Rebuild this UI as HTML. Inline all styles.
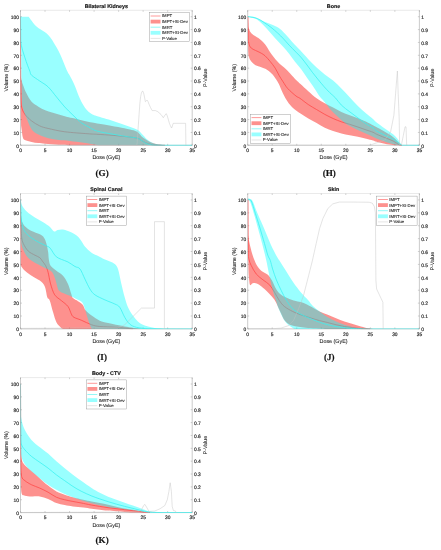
<!DOCTYPE html>
<html lang="en">
<head>
<meta charset="utf-8">
<title>DVH comparison IMPT vs IMRT</title>
<style>
html,body{margin:0;padding:0;background:#fff;}
body{width:441px;height:550px;overflow:hidden;}
svg{display:block;}
text{font-family:"Liberation Sans",Arial,Helvetica,sans-serif;fill:#262626;text-rendering:geometricPrecision;stroke:#262626;stroke-width:0.16px;}
.tk{font-size:4.9px;}
.al{font-size:5.35px;stroke-width:0.09px;}
.tt{font-size:5.35px;font-weight:bold;fill:#111;}
.lg{font-size:4.3px;stroke-width:0.1px;}
.cp{font-family:"Liberation Serif","Times New Roman",serif;font-size:9.1px;font-weight:bold;fill:#111;}
</style>
</head>
<body>
<svg width="441" height="550" viewBox="0 0 441 550">
<rect width="441" height="550" fill="#fff"/>
<g>
<path d="M20.50,10.30 H192.20" stroke="#d0d0d0" stroke-width="0.45" fill="none"/>
<path d="M20.50,10.30 V145.30 H192.20" stroke="#8a8a8a" stroke-width="0.45" fill="none"/>
<path d="M192.20,10.30 V145.30" stroke="#8a8a8a" stroke-width="0.45" fill="none"/>
<path d="M20.50,145.30 v-1.5 M20.50,10.30 v1.5 M45.03,145.30 v-1.5 M45.03,10.30 v1.5 M69.56,145.30 v-1.5 M69.56,10.30 v1.5 M94.09,145.30 v-1.5 M94.09,10.30 v1.5 M118.61,145.30 v-1.5 M118.61,10.30 v1.5 M143.14,145.30 v-1.5 M143.14,10.30 v1.5 M167.67,145.30 v-1.5 M167.67,10.30 v1.5 M192.20,145.30 v-1.5 M192.20,10.30 v1.5 M20.50,145.30 h1.5 M192.20,145.30 h-1.5 M20.50,132.44 h1.5 M192.20,132.44 h-1.5 M20.50,119.59 h1.5 M192.20,119.59 h-1.5 M20.50,106.73 h1.5 M192.20,106.73 h-1.5 M20.50,93.87 h1.5 M192.20,93.87 h-1.5 M20.50,81.01 h1.5 M192.20,81.01 h-1.5 M20.50,68.16 h1.5 M192.20,68.16 h-1.5 M20.50,55.30 h1.5 M192.20,55.30 h-1.5 M20.50,42.44 h1.5 M192.20,42.44 h-1.5 M20.50,29.59 h1.5 M192.20,29.59 h-1.5 M20.50,16.73 h1.5 M192.20,16.73 h-1.5" stroke="#8a8a8a" stroke-width="0.4" fill="none"/>
<clipPath id="cG"><rect x="20.50" y="10.30" width="171.70" height="135.40"/></clipPath>
<g clip-path="url(#cG)">
<path d="M20.50,16.72 L20.80,75.74 L20.80,75.74 C20.93,76.58 21.17,79.05 21.60,80.76 C22.03,82.47 22.63,83.97 23.40,85.98 C24.17,87.99 24.83,90.16 26.20,92.81 C27.57,95.45 29.57,99.53 31.60,101.84 C33.63,104.15 36.13,105.27 38.40,106.66 C40.67,108.05 42.93,109.18 45.20,110.17 C47.47,111.16 49.73,111.84 52.00,112.58 C54.27,113.31 56.53,113.95 58.80,114.59 C61.07,115.22 63.33,115.81 65.60,116.39 C67.87,116.98 69.40,117.38 72.40,118.10 C75.40,118.82 79.47,119.82 83.60,120.71 C87.73,121.60 92.67,122.60 97.20,123.42 C101.73,124.24 106.27,124.84 110.80,125.63 C115.33,126.41 121.20,127.50 124.40,128.14 C127.60,128.77 127.88,128.84 130.00,129.44 C132.12,130.04 134.95,130.39 137.10,131.75 C139.25,133.10 140.83,135.92 142.90,137.57 C144.97,139.23 147.32,140.62 149.50,141.69 C151.68,142.76 153.42,143.39 156.00,144.00 C158.58,144.60 163.50,145.08 165.00,145.30 L70.00,145.30 C68.13,145.22 62.93,145.05 58.80,144.80 C54.67,144.55 48.60,144.08 45.20,143.79 C41.80,143.51 40.67,143.39 38.40,143.09 C36.13,142.79 33.87,142.49 31.60,141.99 C29.33,141.49 26.27,140.87 24.80,140.08 C23.33,139.29 23.30,138.88 22.80,137.27 C22.30,135.66 22.07,132.25 21.80,130.44 C21.53,128.64 21.30,127.10 21.20,126.43 L21.20,126.43 C21.12,122.08 20.82,118.62 20.70,100.33 C20.58,82.05 20.53,30.66 20.50,16.72 Z" fill="#fb0a05" fill-opacity="0.45"/>
<path d="M20.50,16.72 C20.52,23.97 20.53,47.09 20.60,60.18 C20.67,73.28 20.85,89.46 20.90,95.31 L20.90,95.31 C21.02,97.24 20.93,103.70 21.60,106.86 C22.27,110.02 23.23,111.94 24.90,114.29 C26.57,116.63 29.12,118.97 31.60,120.91 C34.08,122.85 37.05,124.67 39.80,125.93 C42.55,127.18 43.95,127.47 48.10,128.44 C52.25,129.41 58.05,130.86 64.70,131.75 C71.35,132.64 82.68,133.34 88.00,133.76 C93.32,134.18 92.42,133.99 96.60,134.26 C100.78,134.53 107.58,134.89 113.10,135.36 C118.62,135.83 125.57,136.57 129.70,137.07 C133.83,137.57 135.68,137.64 137.90,138.37 C140.12,139.11 141.15,140.55 143.00,141.49 C144.85,142.42 146.83,143.39 149.00,144.00 C151.17,144.60 153.33,144.88 156.00,145.10 C158.67,145.32 163.50,145.27 165.00,145.30" fill="none" stroke="#ff4545" stroke-width="0.75"/>
<path d="M20.50,16.72 L28.70,16.72 L28.70,16.72 C29.73,18.10 33.02,22.90 34.90,24.95 C36.78,27.01 38.13,27.73 40.00,29.07 C41.87,30.41 44.43,31.65 46.10,32.98 C47.77,34.32 48.75,35.51 50.00,37.10 C51.25,38.69 51.95,39.74 53.60,42.52 C55.25,45.30 57.62,48.96 59.90,53.76 C62.18,58.56 65.68,67.75 67.30,71.33 C68.92,74.91 68.38,72.93 69.60,75.24 C70.82,77.55 72.87,81.25 74.60,85.18 C76.33,89.11 78.27,95.08 80.00,98.83 C81.73,102.58 83.35,105.35 85.00,107.66 C86.65,109.97 87.97,111.29 89.90,112.68 C91.83,114.07 92.73,114.62 96.60,115.99 C100.47,117.36 107.58,119.12 113.10,120.91 C118.62,122.70 125.57,125.21 129.70,126.73 C133.83,128.25 135.70,128.66 137.90,130.04 C140.10,131.43 141.23,133.39 142.90,135.06 C144.57,136.73 146.22,138.78 147.90,140.08 C149.58,141.39 151.30,142.21 153.00,142.89 C154.70,143.58 155.03,143.79 158.10,144.20 C161.17,144.60 169.18,145.12 171.40,145.30 L102.00,145.30 C101.20,145.23 100.27,145.33 97.20,144.90 C94.13,144.46 88.13,143.36 83.60,142.69 C79.07,142.02 74.13,141.34 70.00,140.88 C65.87,140.43 61.80,140.30 58.80,139.98 C55.80,139.66 54.27,139.43 52.00,138.98 C49.73,138.52 47.47,138.01 45.20,137.27 C42.93,136.53 40.43,135.61 38.40,134.56 C36.37,133.51 34.37,132.23 33.00,130.95 C31.63,129.66 31.12,128.59 30.20,126.83 C29.28,125.08 28.40,122.57 27.50,120.41 C26.60,118.25 25.47,115.56 24.80,113.88 C24.13,112.21 23.95,111.79 23.50,110.37 C23.05,108.95 22.33,106.19 22.10,105.35 L22.10,105.35 C22.00,101.17 21.68,91.13 21.50,80.26 C21.32,69.39 21.17,50.70 21.00,40.11 C20.83,29.52 20.58,20.62 20.50,16.72 Z" fill="#00ffff" fill-opacity="0.4"/>
<path d="M20.50,16.72 L20.70,42.12 L20.70,42.12 C21.00,43.46 21.80,47.57 22.50,50.15 C23.20,52.72 24.07,55.07 24.90,57.58 C25.73,60.08 26.67,62.91 27.50,65.20 C28.33,67.50 29.22,69.65 29.90,71.33 C30.58,73.00 29.95,73.62 31.60,75.24 C33.25,76.86 37.05,79.12 39.80,81.06 C42.55,83.00 45.33,84.26 48.10,86.88 C50.87,89.51 53.63,93.49 56.40,96.82 C59.17,100.15 61.95,103.81 64.70,106.86 C67.45,109.90 70.15,112.46 72.90,115.09 C75.65,117.71 78.63,120.68 81.20,122.62 C83.77,124.56 85.73,125.34 88.30,126.73 C90.87,128.12 92.47,129.69 96.60,130.95 C100.73,132.20 107.58,133.24 113.10,134.26 C118.62,135.28 125.57,136.38 129.70,137.07 C133.83,137.76 135.15,137.32 137.90,138.37 C140.65,139.43 143.68,142.27 146.20,143.39 C148.72,144.51 150.70,144.78 153.00,145.10 C155.30,145.42 158.83,145.27 160.00,145.30 L192.20,145.30" fill="none" stroke="#38f2f0" stroke-width="0.75"/>
<path d="M20.50,145.10 L137.00,145.10 L137.60,135.46 L138.70,120.11 L139.80,104.15 L140.60,96.82 L141.40,93.01 L142.20,91.30 L142.80,91.10 L143.40,92.30 L144.00,94.61 L145.40,101.74 L146.30,100.94 L147.10,100.13 L148.00,101.54 L149.00,104.15 L150.50,107.56 L152.20,110.57 L155.40,110.57 L157.80,111.68 L161.00,114.49 L163.30,117.70 L164.80,115.39 L166.20,113.68 L167.00,115.19 L167.80,117.70 L169.40,123.32 L170.60,126.23 L171.60,128.04 L172.40,125.93 L173.20,123.32 L185.60,123.32 L185.90,145.30" fill="none" stroke="#c2c2c2" stroke-width="0.45" stroke-linejoin="round"/>
</g>
<text class="tk" x="20.50" y="152.00" text-anchor="middle">0</text>
<text class="tk" x="45.03" y="152.00" text-anchor="middle">5</text>
<text class="tk" x="69.56" y="152.00" text-anchor="middle">10</text>
<text class="tk" x="94.09" y="152.00" text-anchor="middle">15</text>
<text class="tk" x="118.61" y="152.00" text-anchor="middle">20</text>
<text class="tk" x="143.14" y="152.00" text-anchor="middle">25</text>
<text class="tk" x="167.67" y="152.00" text-anchor="middle">30</text>
<text class="tk" x="192.20" y="152.00" text-anchor="middle">35</text>
<text class="tk" x="19.00" y="147.55" text-anchor="end">0</text>
<text class="tk" x="193.95" y="147.55">0</text>
<text class="tk" x="19.00" y="134.69" text-anchor="end">10</text>
<text class="tk" x="193.95" y="134.69">0.1</text>
<text class="tk" x="19.00" y="121.84" text-anchor="end">20</text>
<text class="tk" x="193.95" y="121.84">0.2</text>
<text class="tk" x="19.00" y="108.98" text-anchor="end">30</text>
<text class="tk" x="193.95" y="108.98">0.3</text>
<text class="tk" x="19.00" y="96.12" text-anchor="end">40</text>
<text class="tk" x="193.95" y="96.12">0.4</text>
<text class="tk" x="19.00" y="83.26" text-anchor="end">50</text>
<text class="tk" x="193.95" y="83.26">0.5</text>
<text class="tk" x="19.00" y="70.41" text-anchor="end">60</text>
<text class="tk" x="193.95" y="70.41">0.6</text>
<text class="tk" x="19.00" y="57.55" text-anchor="end">70</text>
<text class="tk" x="193.95" y="57.55">0.7</text>
<text class="tk" x="19.00" y="44.69" text-anchor="end">80</text>
<text class="tk" x="193.95" y="44.69">0.8</text>
<text class="tk" x="19.00" y="31.84" text-anchor="end">90</text>
<text class="tk" x="193.95" y="31.84">0.9</text>
<text class="tk" x="19.00" y="18.98" text-anchor="end">100</text>
<text class="tk" x="193.95" y="18.98">1</text>
<text class="al" x="106.35" y="159.30" text-anchor="middle">Dose (GyE)</text>
<text class="al" transform="translate(8.40,77.80) rotate(-90)" text-anchor="middle">Volume (%)</text>
<text class="al" transform="translate(207.20,77.80) rotate(-90)" text-anchor="middle">P-Value</text>
<text class="tt" x="106.35" y="7.70" text-anchor="middle">Bilateral Kidneys</text>
<rect x="149.40" y="12.60" width="40.3" height="29.1" fill="#fff" stroke="#8a8a8a" stroke-width="0.4"/>
<path d="M150.60,16.00 h9.9" stroke="#ff4545" stroke-width="0.55"/>
<text class="lg" x="161.90" y="17.45">IMPT</text>
<rect x="150.60" y="19.70" width="9.9" height="3.8" fill="#fb0a05" fill-opacity="0.45"/>
<text class="lg" x="161.90" y="23.05">IMPT+St-Dev</text>
<path d="M150.60,27.20 h9.9" stroke="#38f2f0" stroke-width="0.55"/>
<text class="lg" x="161.90" y="28.65">IMRT</text>
<rect x="150.60" y="30.90" width="9.9" height="3.8" fill="#00ffff" fill-opacity="0.4"/>
<text class="lg" x="161.90" y="34.25">IMRT+St-Dev</text>
<path d="M150.60,38.40 h9.9" stroke="#c2c2c2" stroke-width="0.45"/>
<text class="lg" x="161.90" y="39.85">P-Value</text>
<text class="cp" x="102.15" y="175.90" text-anchor="middle">(G)</text>
</g>
<g>
<path d="M247.70,10.30 H419.40" stroke="#d0d0d0" stroke-width="0.45" fill="none"/>
<path d="M247.70,10.30 V145.30 H419.40" stroke="#8a8a8a" stroke-width="0.45" fill="none"/>
<path d="M419.40,10.30 V145.30" stroke="#8a8a8a" stroke-width="0.45" fill="none"/>
<path d="M247.70,145.30 v-1.5 M247.70,10.30 v1.5 M272.23,145.30 v-1.5 M272.23,10.30 v1.5 M296.76,145.30 v-1.5 M296.76,10.30 v1.5 M321.29,145.30 v-1.5 M321.29,10.30 v1.5 M345.81,145.30 v-1.5 M345.81,10.30 v1.5 M370.34,145.30 v-1.5 M370.34,10.30 v1.5 M394.87,145.30 v-1.5 M394.87,10.30 v1.5 M419.40,145.30 v-1.5 M419.40,10.30 v1.5 M247.70,145.30 h1.5 M419.40,145.30 h-1.5 M247.70,132.44 h1.5 M419.40,132.44 h-1.5 M247.70,119.59 h1.5 M419.40,119.59 h-1.5 M247.70,106.73 h1.5 M419.40,106.73 h-1.5 M247.70,93.87 h1.5 M419.40,93.87 h-1.5 M247.70,81.01 h1.5 M419.40,81.01 h-1.5 M247.70,68.16 h1.5 M419.40,68.16 h-1.5 M247.70,55.30 h1.5 M419.40,55.30 h-1.5 M247.70,42.44 h1.5 M419.40,42.44 h-1.5 M247.70,29.59 h1.5 M419.40,29.59 h-1.5 M247.70,16.73 h1.5 M419.40,16.73 h-1.5" stroke="#8a8a8a" stroke-width="0.4" fill="none"/>
<clipPath id="cH"><rect x="247.70" y="10.30" width="171.70" height="135.40"/></clipPath>
<g clip-path="url(#cH)">
<path d="M247.90,16.72 L248.30,27.06 L248.30,27.06 C248.38,27.26 248.30,27.25 248.80,28.27 C249.30,29.29 249.50,31.39 251.30,33.18 C253.10,34.97 257.32,37.15 259.60,39.01 C261.88,40.86 263.22,42.08 265.00,44.33 C266.78,46.57 268.30,49.68 270.30,52.46 C272.30,55.23 275.05,58.76 277.00,60.99 C278.95,63.21 280.37,64.32 282.00,65.81 C283.63,67.29 285.33,68.52 286.80,69.92 C288.27,71.33 289.20,72.51 290.80,74.24 C292.40,75.96 294.78,78.62 296.40,80.26 C298.02,81.90 298.52,82.23 300.50,84.07 C302.48,85.91 305.62,88.92 308.30,91.30 C310.98,93.68 313.85,96.32 316.60,98.33 C319.35,100.33 322.05,101.81 324.80,103.34 C327.55,104.88 330.33,106.14 333.10,107.56 C335.87,108.98 338.63,110.60 341.40,111.88 C344.17,113.15 346.95,114.13 349.70,115.19 C352.45,116.24 355.15,117.11 357.90,118.20 C360.65,119.29 363.68,120.54 366.20,121.71 C368.72,122.88 371.10,124.22 373.00,125.23 C374.90,126.23 375.70,126.70 377.60,127.73 C379.50,128.77 382.33,130.28 384.40,131.45 C386.47,132.62 388.32,133.62 390.00,134.76 C391.68,135.90 393.15,137.07 394.50,138.27 C395.85,139.48 396.82,140.82 398.10,141.99 C399.38,143.16 401.52,144.75 402.20,145.30 L396.00,145.30 C395.52,145.25 394.97,145.27 393.10,145.00 C391.23,144.73 387.55,144.25 384.80,143.69 C382.05,143.14 378.57,142.24 376.60,141.69 C374.63,141.13 374.73,140.88 373.00,140.38 C371.27,139.88 368.72,139.28 366.20,138.68 C363.68,138.07 360.65,137.35 357.90,136.77 C355.15,136.18 352.45,135.71 349.70,135.16 C346.95,134.61 344.17,134.16 341.40,133.46 C338.63,132.75 335.87,131.92 333.10,130.95 C330.33,129.98 327.55,128.97 324.80,127.63 C322.05,126.30 319.35,124.46 316.60,122.92 C313.85,121.38 310.98,119.97 308.30,118.40 C305.62,116.83 303.10,115.27 300.50,113.48 C297.90,111.69 294.83,109.60 292.70,107.66 C290.57,105.72 289.32,104.20 287.70,101.84 C286.08,99.48 284.52,96.55 283.00,93.51 C281.48,90.46 280.05,86.37 278.60,83.57 C277.15,80.78 275.60,78.54 274.30,76.75 C273.00,74.96 272.30,74.15 270.80,72.83 C269.30,71.51 267.73,70.02 265.30,68.82 C262.87,67.61 258.53,66.83 256.20,65.60 C253.87,64.38 252.53,63.01 251.30,61.49 C250.07,59.97 249.32,58.36 248.80,56.47 C248.28,54.58 248.30,51.20 248.20,50.15 L248.20,50.15 L247.90,16.72 Z" fill="#fb0a05" fill-opacity="0.45"/>
<path d="M247.90,16.72 L248.20,40.11 L248.20,40.11 C248.30,40.63 248.28,41.88 248.80,43.22 C249.32,44.56 249.43,46.58 251.30,48.14 C253.17,49.70 257.72,51.29 260.00,52.56 C262.28,53.83 263.30,54.28 265.00,55.77 C266.70,57.26 268.50,59.43 270.20,61.49 C271.90,63.55 273.70,65.76 275.20,68.11 C276.70,70.47 277.90,73.38 279.20,75.64 C280.50,77.90 281.58,79.52 283.00,81.66 C284.42,83.81 285.53,86.10 287.70,88.49 C289.87,90.88 293.95,94.38 296.00,96.02 C298.05,97.66 297.95,96.90 300.00,98.33 C302.05,99.75 305.53,102.68 308.30,104.55 C311.07,106.42 313.85,107.93 316.60,109.57 C319.35,111.21 322.05,112.90 324.80,114.39 C327.55,115.87 330.33,117.26 333.10,118.50 C335.87,119.74 338.63,120.84 341.40,121.81 C344.17,122.78 346.95,123.45 349.70,124.32 C352.45,125.19 355.15,126.10 357.90,127.03 C360.65,127.97 363.68,129.07 366.20,129.94 C368.72,130.81 371.27,131.53 373.00,132.25 C374.73,132.97 374.63,133.36 376.60,134.26 C378.57,135.16 382.05,136.55 384.80,137.67 C387.55,138.79 390.62,139.75 393.10,140.98 C395.58,142.22 398.22,144.38 399.70,145.10 C401.18,145.82 401.62,145.27 402.00,145.30" fill="none" stroke="#ff4545" stroke-width="0.75"/>
<path d="M247.90,16.52 C249.02,16.59 251.83,16.07 254.60,16.92 C257.37,17.78 261.18,20.17 264.50,21.64 C267.82,23.11 271.73,24.39 274.50,25.76 C277.27,27.13 278.07,27.10 281.10,29.87 C284.13,32.65 289.55,39.06 292.70,42.42 C295.85,45.78 297.40,47.25 300.00,50.05 C302.60,52.84 305.53,56.27 308.30,59.18 C311.07,62.09 313.85,64.97 316.60,67.51 C319.35,70.05 322.05,72.26 324.80,74.44 C327.55,76.61 330.33,78.20 333.10,80.56 C335.87,82.92 338.63,85.80 341.40,88.59 C344.17,91.38 346.95,94.43 349.70,97.32 C352.45,100.22 355.15,103.28 357.90,105.95 C360.65,108.63 363.68,111.22 366.20,113.38 C368.72,115.54 371.27,117.40 373.00,118.90 C374.73,120.41 374.63,120.83 376.60,122.42 C378.57,124.00 382.05,126.46 384.80,128.44 C387.55,130.41 391.02,132.59 393.10,134.26 C395.18,135.93 396.05,136.95 397.30,138.47 C398.55,140.00 399.65,142.26 400.60,143.39 C401.55,144.53 402.60,144.98 403.00,145.30 L399.70,145.30 C398.92,145.17 396.62,144.83 395.00,144.50 C393.38,144.16 391.77,143.79 390.00,143.29 C388.23,142.79 386.47,142.21 384.40,141.49 C382.33,140.77 379.87,139.93 377.60,138.98 C375.33,138.02 373.07,136.82 370.80,135.76 C368.53,134.71 366.27,133.66 364.00,132.65 C361.73,131.65 359.47,130.80 357.20,129.74 C354.93,128.69 352.67,127.63 350.40,126.33 C348.13,125.02 345.87,123.69 343.60,121.91 C341.33,120.14 339.07,117.85 336.80,115.69 C334.53,113.53 332.00,111.19 330.00,108.97 C328.00,106.74 326.18,104.03 324.80,102.34 C323.42,100.65 322.78,100.13 321.70,98.83 C320.62,97.52 319.80,96.69 318.30,94.51 C316.80,92.34 314.58,88.57 312.70,85.78 C310.82,82.99 308.92,80.51 307.00,77.75 C305.08,74.99 303.20,71.89 301.20,69.22 C299.20,66.54 297.02,64.28 295.00,61.69 C292.98,59.10 291.03,56.12 289.10,53.66 C287.17,51.20 285.30,49.06 283.40,46.94 C281.50,44.81 279.58,42.95 277.70,40.91 C275.82,38.87 273.98,36.78 272.10,34.69 C270.22,32.60 268.30,30.39 266.40,28.37 C264.50,26.34 262.58,24.18 260.70,22.55 C258.82,20.91 257.23,19.50 255.10,18.53 C252.97,17.56 249.10,17.02 247.90,16.72 Z" fill="#00ffff" fill-opacity="0.4"/>
<path d="M247.90,16.62 C249.47,16.94 254.60,17.54 257.30,18.53 C260.00,19.52 261.83,21.09 264.10,22.55 C266.37,24.00 268.63,25.51 270.90,27.26 C273.17,29.02 275.62,31.18 277.70,33.08 C279.78,34.99 281.50,36.70 283.40,38.71 C285.30,40.71 287.00,42.89 289.10,45.13 C291.20,47.37 293.97,50.06 296.00,52.16 C298.03,54.25 299.47,55.53 301.30,57.68 C303.13,59.82 305.10,62.49 307.00,65.00 C308.90,67.51 310.82,70.27 312.70,72.73 C314.58,75.19 316.42,77.45 318.30,79.76 C320.18,82.07 322.10,84.44 324.00,86.58 C325.90,88.72 327.80,90.73 329.70,92.60 C331.60,94.48 333.45,95.73 335.40,97.82 C337.35,99.92 339.02,102.83 341.40,105.15 C343.78,107.48 346.95,109.65 349.70,111.78 C352.45,113.90 355.15,115.87 357.90,117.90 C360.65,119.92 363.68,122.25 366.20,123.92 C368.72,125.59 371.27,126.76 373.00,127.94 C374.73,129.11 374.63,129.74 376.60,130.95 C378.57,132.15 382.05,133.77 384.80,135.16 C387.55,136.55 390.88,138.04 393.10,139.28 C395.32,140.52 396.72,141.59 398.10,142.59 C399.48,143.59 400.85,144.85 401.40,145.30 L419.30,145.30" fill="none" stroke="#38f2f0" stroke-width="0.75"/>
<path d="M247.90,145.10 L370.00,145.10 L384.80,140.08 L390.60,131.85 L393.90,115.19 L395.60,93.61 L396.70,79.26 L397.40,71.02 L398.20,93.61 L399.20,118.50 L399.60,145.30 L401.40,145.10 L403.40,135.16 L405.00,126.83 L406.00,126.83 L406.70,145.30" fill="none" stroke="#c2c2c2" stroke-width="0.45" stroke-linejoin="round"/>
</g>
<text class="tk" x="247.70" y="152.00" text-anchor="middle">0</text>
<text class="tk" x="272.23" y="152.00" text-anchor="middle">5</text>
<text class="tk" x="296.76" y="152.00" text-anchor="middle">10</text>
<text class="tk" x="321.29" y="152.00" text-anchor="middle">15</text>
<text class="tk" x="345.81" y="152.00" text-anchor="middle">20</text>
<text class="tk" x="370.34" y="152.00" text-anchor="middle">25</text>
<text class="tk" x="394.87" y="152.00" text-anchor="middle">30</text>
<text class="tk" x="419.40" y="152.00" text-anchor="middle">35</text>
<text class="tk" x="246.20" y="147.55" text-anchor="end">0</text>
<text class="tk" x="421.15" y="147.55">0</text>
<text class="tk" x="246.20" y="134.69" text-anchor="end">10</text>
<text class="tk" x="421.15" y="134.69">0.1</text>
<text class="tk" x="246.20" y="121.84" text-anchor="end">20</text>
<text class="tk" x="421.15" y="121.84">0.2</text>
<text class="tk" x="246.20" y="108.98" text-anchor="end">30</text>
<text class="tk" x="421.15" y="108.98">0.3</text>
<text class="tk" x="246.20" y="96.12" text-anchor="end">40</text>
<text class="tk" x="421.15" y="96.12">0.4</text>
<text class="tk" x="246.20" y="83.26" text-anchor="end">50</text>
<text class="tk" x="421.15" y="83.26">0.5</text>
<text class="tk" x="246.20" y="70.41" text-anchor="end">60</text>
<text class="tk" x="421.15" y="70.41">0.6</text>
<text class="tk" x="246.20" y="57.55" text-anchor="end">70</text>
<text class="tk" x="421.15" y="57.55">0.7</text>
<text class="tk" x="246.20" y="44.69" text-anchor="end">80</text>
<text class="tk" x="421.15" y="44.69">0.8</text>
<text class="tk" x="246.20" y="31.84" text-anchor="end">90</text>
<text class="tk" x="421.15" y="31.84">0.9</text>
<text class="tk" x="246.20" y="18.98" text-anchor="end">100</text>
<text class="tk" x="421.15" y="18.98">1</text>
<text class="al" x="333.55" y="159.30" text-anchor="middle">Dose (GyE)</text>
<text class="al" transform="translate(235.60,77.80) rotate(-90)" text-anchor="middle">Volume (%)</text>
<text class="al" transform="translate(434.40,77.80) rotate(-90)" text-anchor="middle">P-Value</text>
<text class="tt" x="333.55" y="7.70" text-anchor="middle">Bone</text>
<rect x="250.30" y="114.20" width="40.3" height="29.1" fill="#fff" stroke="#8a8a8a" stroke-width="0.4"/>
<path d="M251.50,117.60 h9.9" stroke="#ff4545" stroke-width="0.55"/>
<text class="lg" x="262.80" y="119.05">IMPT</text>
<rect x="251.50" y="121.30" width="9.9" height="3.8" fill="#fb0a05" fill-opacity="0.45"/>
<text class="lg" x="262.80" y="124.65">IMPT+St-Dev</text>
<path d="M251.50,128.80 h9.9" stroke="#38f2f0" stroke-width="0.55"/>
<text class="lg" x="262.80" y="130.25">IMRT</text>
<rect x="251.50" y="132.50" width="9.9" height="3.8" fill="#00ffff" fill-opacity="0.4"/>
<text class="lg" x="262.80" y="135.85">IMRT+St-Dev</text>
<path d="M251.50,140.00 h9.9" stroke="#c2c2c2" stroke-width="0.45"/>
<text class="lg" x="262.80" y="141.45">P-Value</text>
<text class="cp" x="329.35" y="175.90" text-anchor="middle">(H)</text>
</g>
<g>
<path d="M20.50,193.50 H192.20" stroke="#d0d0d0" stroke-width="0.45" fill="none"/>
<path d="M20.50,193.50 V328.90 H192.20" stroke="#8a8a8a" stroke-width="0.45" fill="none"/>
<path d="M192.20,193.50 V328.90" stroke="#8a8a8a" stroke-width="0.45" fill="none"/>
<path d="M20.50,328.90 v-1.5 M20.50,193.50 v1.5 M45.03,328.90 v-1.5 M45.03,193.50 v1.5 M69.56,328.90 v-1.5 M69.56,193.50 v1.5 M94.09,328.90 v-1.5 M94.09,193.50 v1.5 M118.61,328.90 v-1.5 M118.61,193.50 v1.5 M143.14,328.90 v-1.5 M143.14,193.50 v1.5 M167.67,328.90 v-1.5 M167.67,193.50 v1.5 M192.20,328.90 v-1.5 M192.20,193.50 v1.5 M20.50,328.90 h1.5 M192.20,328.90 h-1.5 M20.50,316.00 h1.5 M192.20,316.00 h-1.5 M20.50,303.11 h1.5 M192.20,303.11 h-1.5 M20.50,290.21 h1.5 M192.20,290.21 h-1.5 M20.50,277.32 h1.5 M192.20,277.32 h-1.5 M20.50,264.42 h1.5 M192.20,264.42 h-1.5 M20.50,251.53 h1.5 M192.20,251.53 h-1.5 M20.50,238.63 h1.5 M192.20,238.63 h-1.5 M20.50,225.74 h1.5 M192.20,225.74 h-1.5 M20.50,212.84 h1.5 M192.20,212.84 h-1.5 M20.50,199.95 h1.5 M192.20,199.95 h-1.5" stroke="#8a8a8a" stroke-width="0.4" fill="none"/>
<clipPath id="cI"><rect x="20.50" y="193.50" width="171.70" height="135.80"/></clipPath>
<g clip-path="url(#cI)">
<path d="M20.50,199.44 L20.80,213.52 L20.80,213.52 C21.08,215.04 21.53,220.31 22.50,222.67 C23.47,225.04 25.08,226.31 26.60,227.70 C28.12,229.09 29.40,229.92 31.60,231.02 C33.80,232.13 37.73,233.23 39.80,234.34 C41.87,235.45 42.90,236.14 44.00,237.66 C45.10,239.19 45.72,241.13 46.40,243.50 C47.08,245.86 47.68,249.10 48.10,251.84 C48.52,254.59 48.48,257.70 48.90,259.99 C49.32,262.29 49.35,263.85 50.60,265.63 C51.85,267.40 54.33,268.98 56.40,270.66 C58.47,272.33 61.07,273.47 63.00,275.69 C64.93,277.90 66.62,280.88 68.00,283.93 C69.38,286.99 70.48,291.63 71.30,293.99 C72.12,296.36 71.80,296.93 72.90,298.12 C74.00,299.31 76.55,300.28 77.90,301.14 C79.25,301.99 80.10,302.49 81.00,303.25 C81.90,304.00 82.50,304.44 83.30,305.66 C84.10,306.89 84.42,308.93 85.80,310.59 C87.18,312.25 89.27,313.94 91.60,315.62 C93.93,317.30 97.05,319.41 99.80,320.65 C102.55,321.89 103.95,322.09 108.10,323.07 C112.25,324.04 119.18,325.51 124.70,326.49 C130.22,327.46 138.45,328.50 141.20,328.90 L63.00,329.00 C62.58,328.72 61.60,328.41 60.50,327.29 C59.40,326.17 57.63,324.76 56.40,322.26 C55.17,319.76 54.20,315.91 53.10,312.30 C52.00,308.70 50.77,303.13 49.80,300.63 C48.83,298.13 48.13,299.68 47.30,297.31 C46.47,294.95 46.05,289.23 44.80,286.45 C43.55,283.67 42.00,282.41 39.80,280.61 C37.60,278.82 34.08,277.35 31.60,275.69 C29.12,274.03 26.70,272.33 24.90,270.66 C23.10,268.98 21.48,266.46 20.80,265.63 L20.80,265.63 C20.77,263.85 20.65,265.99 20.60,254.96 C20.55,243.93 20.52,208.69 20.50,199.44 Z" fill="#fb0a05" fill-opacity="0.45"/>
<path d="M20.50,199.44 L20.80,221.87 L20.80,221.87 C20.93,224.37 21.18,233.25 21.60,236.86 C22.02,240.46 22.20,241.13 23.30,243.50 C24.40,245.86 26.27,249.10 28.20,251.04 C30.13,252.98 32.97,254.06 34.90,255.16 C36.83,256.27 38.57,256.71 39.80,257.68 C41.03,258.65 41.33,259.67 42.30,261.00 C43.27,262.32 44.63,263.75 45.60,265.63 C46.57,267.50 47.27,269.21 48.10,272.27 C48.93,275.32 49.50,280.18 50.60,283.93 C51.70,287.69 52.90,292.02 54.70,294.80 C56.50,297.58 59.18,298.69 61.40,300.63 C63.62,302.58 66.35,304.25 68.00,306.47 C69.65,308.68 70.33,312.12 71.30,313.91 C72.27,315.71 72.15,316.19 73.80,317.23 C75.45,318.27 78.23,318.89 81.20,320.15 C84.17,321.41 88.50,323.72 91.60,324.78 C94.70,325.83 95.67,326.07 99.80,326.49 C103.93,326.90 110.88,326.89 116.40,327.29 C121.92,327.69 130.15,328.63 132.90,328.90" fill="none" stroke="#ff4545" stroke-width="0.75"/>
<path d="M20.50,199.44 C20.77,200.46 21.15,203.64 22.10,205.57 C23.05,207.50 24.62,209.39 26.20,211.00 C27.78,212.61 29.57,213.82 31.60,215.23 C33.63,216.64 36.13,218.08 38.40,219.45 C40.67,220.83 43.27,222.22 45.20,223.48 C47.13,224.73 48.52,225.66 50.00,227.00 C51.48,228.34 52.85,231.04 54.10,231.52 C55.35,232.01 56.03,230.25 57.50,229.92 C58.97,229.58 61.15,229.33 62.90,229.51 C64.65,229.70 65.77,230.07 68.00,231.02 C70.23,231.98 74.10,233.64 76.30,235.25 C78.50,236.86 79.77,238.82 81.20,240.68 C82.63,242.54 83.17,244.42 84.90,246.41 C86.63,248.41 89.08,250.89 91.60,252.65 C94.12,254.41 97.77,255.83 100.00,256.98 C102.23,258.12 103.33,258.74 105.00,259.49 C106.67,260.24 108.38,260.75 110.00,261.50 C111.62,262.26 113.37,262.78 114.70,264.02 C116.03,265.26 116.88,265.63 118.00,268.95 C119.12,272.27 120.28,279.21 121.40,283.93 C122.52,288.66 123.60,293.42 124.70,297.31 C125.80,301.20 126.63,304.22 128.00,307.27 C129.37,310.32 131.25,313.26 132.90,315.62 C134.55,317.99 136.23,319.93 137.90,321.46 C139.57,322.98 141.22,323.94 142.90,324.78 C144.58,325.61 146.02,325.93 148.00,326.49 C149.98,327.04 152.28,327.69 154.80,328.10 C157.32,328.50 161.72,328.77 163.10,328.90 L91.60,329.00 C91.32,328.30 90.60,326.72 89.90,324.78 C89.20,322.83 88.22,319.91 87.40,317.33 C86.58,314.75 85.65,311.38 85.00,309.28 C84.35,307.19 84.08,306.01 83.50,304.76 C82.92,303.50 82.43,302.58 81.50,301.74 C80.57,300.90 79.60,300.60 77.90,299.73 C76.20,298.86 73.78,297.62 71.30,296.51 C68.82,295.40 65.10,294.14 63.00,293.09 C60.90,292.03 59.70,291.45 58.70,290.17 C57.70,288.90 57.53,287.15 57.00,285.44 C56.47,283.73 56.08,281.75 55.50,279.91 C54.92,278.07 54.30,275.90 53.50,274.38 C52.70,272.85 51.85,271.71 50.70,270.76 C49.55,269.80 48.20,269.45 46.60,268.64 C45.00,267.84 42.92,266.82 41.10,265.93 C39.28,265.04 37.52,264.34 35.70,263.31 C33.88,262.29 31.78,261.10 30.20,259.79 C28.62,258.48 27.33,257.11 26.20,255.47 C25.07,253.82 24.20,251.84 23.40,249.93 C22.60,248.02 21.83,247.28 21.40,244.00 C20.97,240.71 20.90,232.51 20.80,230.22 L20.80,230.22 L20.50,199.44 Z" fill="#00ffff" fill-opacity="0.4"/>
<path d="M20.50,199.44 L20.80,216.84 L20.80,216.84 C21.22,218.78 22.07,225.44 23.30,228.51 C24.53,231.57 26.00,233.15 28.20,235.25 C30.40,237.34 33.73,239.42 36.50,241.08 C39.27,242.74 42.58,244.10 44.80,245.21 C47.02,246.31 48.42,246.48 49.80,247.72 C51.18,248.96 52.00,251.12 53.10,252.65 C54.20,254.18 55.02,255.75 56.40,256.87 C57.78,258.00 59.47,258.53 61.40,259.39 C63.33,260.24 65.73,260.81 68.00,262.00 C70.27,263.20 73.00,265.37 75.00,266.53 C77.00,267.69 78.35,266.87 80.00,268.95 C81.65,271.02 83.25,275.67 84.90,279.01 C86.55,282.34 88.23,286.33 89.90,288.96 C91.57,291.60 92.42,292.99 94.90,294.80 C97.38,296.61 101.50,298.30 104.80,299.83 C108.10,301.35 112.22,302.71 114.70,303.95 C117.18,305.19 118.03,305.06 119.70,307.27 C121.37,309.49 123.05,314.45 124.70,317.23 C126.35,320.01 127.67,322.29 129.60,323.97 C131.53,325.65 133.23,326.47 136.30,327.29 C139.37,328.11 146.05,328.63 148.00,328.90 L192.20,329.00" fill="none" stroke="#38f2f0" stroke-width="0.75"/>
<path d="M20.50,328.40 L118.00,327.89 L124.70,324.78 L141.40,308.08 L154.50,308.08 L154.50,221.67 L164.40,221.67 L164.40,329.00" fill="none" stroke="#c2c2c2" stroke-width="0.45" stroke-linejoin="round"/>
</g>
<text class="tk" x="20.50" y="335.60" text-anchor="middle">0</text>
<text class="tk" x="45.03" y="335.60" text-anchor="middle">5</text>
<text class="tk" x="69.56" y="335.60" text-anchor="middle">10</text>
<text class="tk" x="94.09" y="335.60" text-anchor="middle">15</text>
<text class="tk" x="118.61" y="335.60" text-anchor="middle">20</text>
<text class="tk" x="143.14" y="335.60" text-anchor="middle">25</text>
<text class="tk" x="167.67" y="335.60" text-anchor="middle">30</text>
<text class="tk" x="192.20" y="335.60" text-anchor="middle">35</text>
<text class="tk" x="19.00" y="331.15" text-anchor="end">0</text>
<text class="tk" x="193.95" y="331.15">0</text>
<text class="tk" x="19.00" y="318.25" text-anchor="end">10</text>
<text class="tk" x="193.95" y="318.25">0.1</text>
<text class="tk" x="19.00" y="305.36" text-anchor="end">20</text>
<text class="tk" x="193.95" y="305.36">0.2</text>
<text class="tk" x="19.00" y="292.46" text-anchor="end">30</text>
<text class="tk" x="193.95" y="292.46">0.3</text>
<text class="tk" x="19.00" y="279.57" text-anchor="end">40</text>
<text class="tk" x="193.95" y="279.57">0.4</text>
<text class="tk" x="19.00" y="266.67" text-anchor="end">50</text>
<text class="tk" x="193.95" y="266.67">0.5</text>
<text class="tk" x="19.00" y="253.78" text-anchor="end">60</text>
<text class="tk" x="193.95" y="253.78">0.6</text>
<text class="tk" x="19.00" y="240.88" text-anchor="end">70</text>
<text class="tk" x="193.95" y="240.88">0.7</text>
<text class="tk" x="19.00" y="227.99" text-anchor="end">80</text>
<text class="tk" x="193.95" y="227.99">0.8</text>
<text class="tk" x="19.00" y="215.09" text-anchor="end">90</text>
<text class="tk" x="193.95" y="215.09">0.9</text>
<text class="tk" x="19.00" y="202.20" text-anchor="end">100</text>
<text class="tk" x="193.95" y="202.20">1</text>
<text class="al" x="106.35" y="342.90" text-anchor="middle">Dose (GyE)</text>
<text class="al" transform="translate(8.40,261.20) rotate(-90)" text-anchor="middle">Volume (%)</text>
<text class="al" transform="translate(207.20,261.20) rotate(-90)" text-anchor="middle">P-Value</text>
<text class="tt" x="106.35" y="190.90" text-anchor="middle">Spinal Canal</text>
<rect x="86.20" y="196.10" width="40.3" height="29.1" fill="#fff" stroke="#8a8a8a" stroke-width="0.4"/>
<path d="M87.40,199.50 h9.9" stroke="#ff4545" stroke-width="0.55"/>
<text class="lg" x="98.70" y="200.95">IMPT</text>
<rect x="87.40" y="203.20" width="9.9" height="3.8" fill="#fb0a05" fill-opacity="0.45"/>
<text class="lg" x="98.70" y="206.55">IMPT+St-Dev</text>
<path d="M87.40,210.70 h9.9" stroke="#38f2f0" stroke-width="0.55"/>
<text class="lg" x="98.70" y="212.15">IMRT</text>
<rect x="87.40" y="214.40" width="9.9" height="3.8" fill="#00ffff" fill-opacity="0.4"/>
<text class="lg" x="98.70" y="217.75">IMRT+St-Dev</text>
<path d="M87.40,221.90 h9.9" stroke="#c2c2c2" stroke-width="0.45"/>
<text class="lg" x="98.70" y="223.35">P-Value</text>
<text class="cp" x="102.15" y="359.50" text-anchor="middle">(I)</text>
</g>
<g>
<path d="M247.70,193.50 H419.40" stroke="#d0d0d0" stroke-width="0.45" fill="none"/>
<path d="M247.70,193.50 V328.90 H419.40" stroke="#8a8a8a" stroke-width="0.45" fill="none"/>
<path d="M419.40,193.50 V328.90" stroke="#8a8a8a" stroke-width="0.45" fill="none"/>
<path d="M247.70,328.90 v-1.5 M247.70,193.50 v1.5 M272.23,328.90 v-1.5 M272.23,193.50 v1.5 M296.76,328.90 v-1.5 M296.76,193.50 v1.5 M321.29,328.90 v-1.5 M321.29,193.50 v1.5 M345.81,328.90 v-1.5 M345.81,193.50 v1.5 M370.34,328.90 v-1.5 M370.34,193.50 v1.5 M394.87,328.90 v-1.5 M394.87,193.50 v1.5 M419.40,328.90 v-1.5 M419.40,193.50 v1.5 M247.70,328.90 h1.5 M419.40,328.90 h-1.5 M247.70,316.00 h1.5 M419.40,316.00 h-1.5 M247.70,303.11 h1.5 M419.40,303.11 h-1.5 M247.70,290.21 h1.5 M419.40,290.21 h-1.5 M247.70,277.32 h1.5 M419.40,277.32 h-1.5 M247.70,264.42 h1.5 M419.40,264.42 h-1.5 M247.70,251.53 h1.5 M419.40,251.53 h-1.5 M247.70,238.63 h1.5 M419.40,238.63 h-1.5 M247.70,225.74 h1.5 M419.40,225.74 h-1.5 M247.70,212.84 h1.5 M419.40,212.84 h-1.5 M247.70,199.95 h1.5 M419.40,199.95 h-1.5" stroke="#8a8a8a" stroke-width="0.4" fill="none"/>
<clipPath id="cJ"><rect x="247.70" y="193.50" width="171.70" height="135.80"/></clipPath>
<g clip-path="url(#cJ)">
<path d="M247.90,199.44 L248.00,235.25 L248.00,235.25 C248.27,236.62 248.92,240.44 249.60,243.50 C250.28,246.55 251.27,250.72 252.10,253.55 C252.93,256.39 253.77,258.48 254.60,260.50 C255.43,262.51 256.00,263.93 257.10,265.63 C258.20,267.32 259.42,269.13 261.20,270.66 C262.98,272.18 266.00,273.12 267.80,274.78 C269.60,276.44 270.62,278.25 272.00,280.61 C273.38,282.98 274.58,286.60 276.10,288.96 C277.62,291.33 278.88,293.14 281.10,294.80 C283.32,296.46 286.65,297.82 289.40,298.92 C292.15,300.03 295.33,300.80 297.60,301.44 C299.87,302.07 300.72,301.86 303.00,302.75 C305.28,303.63 308.53,305.31 311.30,306.77 C314.07,308.23 316.85,310.16 319.60,311.50 C322.35,312.84 325.05,313.71 327.80,314.82 C330.55,315.92 333.33,317.03 336.10,318.14 C338.87,319.24 341.63,320.48 344.40,321.46 C347.17,322.43 349.95,323.13 352.70,323.97 C355.45,324.81 358.15,325.71 360.90,326.49 C363.65,327.26 367.27,328.18 369.20,328.60 C371.13,329.02 371.95,328.93 372.50,329.00 L325.00,328.90 C321.80,328.72 311.27,328.35 305.80,327.79 C300.33,327.24 295.67,326.77 292.20,325.58 C288.73,324.39 286.78,322.53 285.00,320.65 C283.22,318.77 282.67,316.63 281.50,314.31 C280.33,312.00 279.17,309.18 278.00,306.77 C276.83,304.35 275.92,301.96 274.50,299.83 C273.08,297.70 271.17,295.80 269.50,293.99 C267.83,292.18 266.43,290.64 264.50,288.96 C262.57,287.29 259.83,284.91 257.90,283.93 C255.97,282.96 254.22,282.98 252.90,283.13 C251.58,283.28 250.68,286.08 250.00,284.84 C249.32,283.60 249.00,277.21 248.80,275.69 L248.80,275.69 C248.72,272.90 248.45,271.70 248.30,258.99 C248.15,246.28 247.97,209.36 247.90,199.44 Z" fill="#fb0a05" fill-opacity="0.45"/>
<path d="M247.90,199.44 L248.20,249.93 L248.20,249.93 C248.30,251.44 248.28,256.37 248.80,258.99 C249.32,261.60 250.07,263.13 251.30,265.63 C252.53,268.12 254.27,271.61 256.20,273.98 C258.13,276.34 260.68,278.00 262.90,279.81 C265.12,281.62 267.57,282.76 269.50,284.84 C271.43,286.92 272.85,289.65 274.50,292.28 C276.15,294.92 277.75,298.27 279.40,300.63 C281.05,303.00 282.18,304.66 284.40,306.47 C286.62,308.28 289.95,310.11 292.70,311.50 C295.45,312.89 297.80,313.71 300.90,314.82 C304.00,315.92 308.18,317.16 311.30,318.14 C314.42,319.11 316.85,319.91 319.60,320.65 C322.35,321.39 325.05,321.88 327.80,322.56 C330.55,323.25 333.33,324.12 336.10,324.78 C338.87,325.43 341.63,326.02 344.40,326.49 C347.17,326.96 349.95,327.24 352.70,327.59 C355.45,327.94 358.02,328.36 360.90,328.60 C363.78,328.83 368.48,328.93 370.00,329.00" fill="none" stroke="#ff4545" stroke-width="0.75"/>
<path d="M247.90,198.93 C248.60,199.15 250.72,198.36 252.10,200.24 C253.48,202.12 254.68,206.59 256.20,210.20 C257.72,213.80 259.53,217.98 261.20,221.87 C262.87,225.76 264.55,229.65 266.20,233.54 C267.85,237.43 269.45,241.60 271.10,245.21 C272.75,248.81 274.72,252.62 276.10,255.16 C277.48,257.71 277.95,258.20 279.40,260.50 C280.85,262.79 282.50,265.31 284.80,268.95 C287.10,272.58 290.47,278.35 293.20,282.32 C295.93,286.30 298.73,289.84 301.20,292.79 C303.67,295.74 306.05,297.82 308.00,300.03 C309.95,302.24 310.97,304.15 312.90,306.07 C314.83,307.98 317.12,309.64 319.60,311.50 C322.08,313.36 325.05,315.57 327.80,317.23 C330.55,318.89 333.33,320.20 336.10,321.46 C338.87,322.71 341.63,323.87 344.40,324.78 C347.17,325.68 349.95,326.30 352.70,326.89 C355.45,327.47 358.15,327.96 360.90,328.30 C363.65,328.63 367.82,328.80 369.20,328.90 L294.50,329.00 C293.67,328.46 291.22,327.26 289.50,325.78 C287.78,324.31 285.95,322.85 284.20,320.15 C282.45,317.45 280.32,312.70 279.00,309.59 C277.68,306.47 277.17,304.04 276.30,301.44 C275.43,298.84 274.78,297.46 273.80,293.99 C272.82,290.52 271.37,284.79 270.40,280.61 C269.43,276.44 268.68,272.30 268.00,268.95 C267.32,265.59 266.93,263.35 266.30,260.50 C265.67,257.65 265.20,255.78 264.20,251.84 C263.20,247.90 261.87,242.69 260.30,236.86 C258.73,231.02 256.43,222.52 254.80,216.84 C253.17,211.15 251.65,205.66 250.50,202.75 C249.35,199.85 248.33,199.99 247.90,199.44 Z" fill="#00ffff" fill-opacity="0.4"/>
<path d="M247.90,199.03 C248.47,199.37 250.05,198.63 251.30,201.04 C252.55,203.46 254.02,209.21 255.40,213.52 C256.78,217.83 258.08,221.90 259.60,226.90 C261.12,231.89 263.13,238.78 264.50,243.50 C265.87,248.21 266.83,252.33 267.80,255.16 C268.77,258.00 269.50,258.20 270.30,260.50 C271.10,262.79 271.58,265.71 272.60,268.95 C273.62,272.18 274.95,276.29 276.40,279.91 C277.85,283.53 279.65,287.32 281.30,290.67 C282.95,294.03 284.40,297.03 286.30,300.03 C288.20,303.03 290.27,306.30 292.70,308.68 C295.13,311.06 297.80,312.60 300.90,314.31 C304.00,316.02 308.18,317.62 311.30,318.94 C314.42,320.27 316.85,321.29 319.60,322.26 C322.35,323.23 325.05,324.07 327.80,324.78 C330.55,325.48 333.33,326.02 336.10,326.49 C338.87,326.96 341.63,327.24 344.40,327.59 C347.17,327.94 349.27,328.36 352.70,328.60 C356.13,328.83 362.95,328.93 365.00,329.00 L419.30,329.00" fill="none" stroke="#38f2f0" stroke-width="0.75"/>
<path d="M247.90,328.90 L272.80,328.70 L281.10,328.10 L288.60,325.58 L293.50,320.65 L298.50,308.98 L303.50,295.60 L308.60,275.69 L312.30,261.00 L316.20,243.50 L319.60,228.51 L322.90,218.55 L327.80,208.59 L332.80,203.86 L339.40,202.05 L352.70,202.05 L369.20,202.25 L372.30,203.16 L374.40,206.68 L375.40,212.71 L375.90,280.11 L376.60,288.96 L382.90,302.24 L383.20,329.00" fill="none" stroke="#c2c2c2" stroke-width="0.45" stroke-linejoin="round"/>
</g>
<text class="tk" x="247.70" y="335.60" text-anchor="middle">0</text>
<text class="tk" x="272.23" y="335.60" text-anchor="middle">5</text>
<text class="tk" x="296.76" y="335.60" text-anchor="middle">10</text>
<text class="tk" x="321.29" y="335.60" text-anchor="middle">15</text>
<text class="tk" x="345.81" y="335.60" text-anchor="middle">20</text>
<text class="tk" x="370.34" y="335.60" text-anchor="middle">25</text>
<text class="tk" x="394.87" y="335.60" text-anchor="middle">30</text>
<text class="tk" x="419.40" y="335.60" text-anchor="middle">35</text>
<text class="tk" x="246.20" y="331.15" text-anchor="end">0</text>
<text class="tk" x="421.15" y="331.15">0</text>
<text class="tk" x="246.20" y="318.25" text-anchor="end">10</text>
<text class="tk" x="421.15" y="318.25">0.1</text>
<text class="tk" x="246.20" y="305.36" text-anchor="end">20</text>
<text class="tk" x="421.15" y="305.36">0.2</text>
<text class="tk" x="246.20" y="292.46" text-anchor="end">30</text>
<text class="tk" x="421.15" y="292.46">0.3</text>
<text class="tk" x="246.20" y="279.57" text-anchor="end">40</text>
<text class="tk" x="421.15" y="279.57">0.4</text>
<text class="tk" x="246.20" y="266.67" text-anchor="end">50</text>
<text class="tk" x="421.15" y="266.67">0.5</text>
<text class="tk" x="246.20" y="253.78" text-anchor="end">60</text>
<text class="tk" x="421.15" y="253.78">0.6</text>
<text class="tk" x="246.20" y="240.88" text-anchor="end">70</text>
<text class="tk" x="421.15" y="240.88">0.7</text>
<text class="tk" x="246.20" y="227.99" text-anchor="end">80</text>
<text class="tk" x="421.15" y="227.99">0.8</text>
<text class="tk" x="246.20" y="215.09" text-anchor="end">90</text>
<text class="tk" x="421.15" y="215.09">0.9</text>
<text class="tk" x="246.20" y="202.20" text-anchor="end">100</text>
<text class="tk" x="421.15" y="202.20">1</text>
<text class="al" x="333.55" y="342.90" text-anchor="middle">Dose (GyE)</text>
<text class="al" transform="translate(235.60,261.20) rotate(-90)" text-anchor="middle">Volume (%)</text>
<text class="al" transform="translate(434.40,261.20) rotate(-90)" text-anchor="middle">P-Value</text>
<text class="tt" x="333.55" y="190.90" text-anchor="middle">Skin</text>
<rect x="376.80" y="196.10" width="40.3" height="29.1" fill="#fff" stroke="#8a8a8a" stroke-width="0.4"/>
<path d="M378.00,199.50 h9.9" stroke="#ff4545" stroke-width="0.55"/>
<text class="lg" x="389.30" y="200.95">IMPT</text>
<rect x="378.00" y="203.20" width="9.9" height="3.8" fill="#fb0a05" fill-opacity="0.45"/>
<text class="lg" x="389.30" y="206.55">IMPT+St-Dev</text>
<path d="M378.00,210.70 h9.9" stroke="#38f2f0" stroke-width="0.55"/>
<text class="lg" x="389.30" y="212.15">IMRT</text>
<rect x="378.00" y="214.40" width="9.9" height="3.8" fill="#00ffff" fill-opacity="0.4"/>
<text class="lg" x="389.30" y="217.75">IMRT+St-Dev</text>
<path d="M378.00,221.90 h9.9" stroke="#c2c2c2" stroke-width="0.45"/>
<text class="lg" x="389.30" y="223.35">P-Value</text>
<text class="cp" x="329.35" y="359.50" text-anchor="middle">(J)</text>
</g>
<g>
<path d="M20.50,377.60 H192.20" stroke="#d0d0d0" stroke-width="0.45" fill="none"/>
<path d="M20.50,377.60 V512.60 H192.20" stroke="#8a8a8a" stroke-width="0.45" fill="none"/>
<path d="M192.20,377.60 V512.60" stroke="#8a8a8a" stroke-width="0.45" fill="none"/>
<path d="M20.50,512.60 v-1.5 M20.50,377.60 v1.5 M45.03,512.60 v-1.5 M45.03,377.60 v1.5 M69.56,512.60 v-1.5 M69.56,377.60 v1.5 M94.09,512.60 v-1.5 M94.09,377.60 v1.5 M118.61,512.60 v-1.5 M118.61,377.60 v1.5 M143.14,512.60 v-1.5 M143.14,377.60 v1.5 M167.67,512.60 v-1.5 M167.67,377.60 v1.5 M192.20,512.60 v-1.5 M192.20,377.60 v1.5 M20.50,512.60 h1.5 M192.20,512.60 h-1.5 M20.50,499.74 h1.5 M192.20,499.74 h-1.5 M20.50,486.89 h1.5 M192.20,486.89 h-1.5 M20.50,474.03 h1.5 M192.20,474.03 h-1.5 M20.50,461.17 h1.5 M192.20,461.17 h-1.5 M20.50,448.31 h1.5 M192.20,448.31 h-1.5 M20.50,435.46 h1.5 M192.20,435.46 h-1.5 M20.50,422.60 h1.5 M192.20,422.60 h-1.5 M20.50,409.74 h1.5 M192.20,409.74 h-1.5 M20.50,396.89 h1.5 M192.20,396.89 h-1.5 M20.50,384.03 h1.5 M192.20,384.03 h-1.5" stroke="#8a8a8a" stroke-width="0.4" fill="none"/>
<clipPath id="cK"><rect x="20.50" y="377.60" width="171.70" height="135.40"/></clipPath>
<g clip-path="url(#cK)">
<path d="M20.50,383.82 L20.80,448.26 L20.80,448.26 C20.93,449.92 21.18,455.71 21.60,458.20 C22.02,460.69 22.20,461.56 23.30,463.22 C24.40,464.87 26.27,466.35 28.20,468.14 C30.13,469.93 32.42,471.73 34.90,473.96 C37.38,476.18 40.90,479.54 43.10,481.48 C45.30,483.43 45.88,483.94 48.10,485.60 C50.32,487.26 53.63,489.90 56.40,491.42 C59.17,492.94 61.95,493.76 64.70,494.73 C67.45,495.70 69.80,496.41 72.90,497.24 C76.00,498.08 80.18,499.05 83.30,499.75 C86.42,500.46 88.85,500.91 91.60,501.46 C94.35,502.01 97.05,502.51 99.80,503.06 C102.55,503.62 105.33,504.17 108.10,504.77 C110.87,505.37 113.63,506.08 116.40,506.68 C119.17,507.28 121.95,507.88 124.70,508.38 C127.45,508.89 130.15,509.19 132.90,509.69 C135.65,510.19 138.35,510.91 141.20,511.40 C144.05,511.88 148.53,512.40 150.00,512.60 L136.00,512.60 C134.12,512.50 129.35,512.33 124.70,512.00 C120.05,511.66 112.25,510.98 108.10,510.59 C103.95,510.21 102.55,510.01 99.80,509.69 C97.05,509.37 94.35,509.05 91.60,508.69 C88.85,508.32 86.42,507.87 83.30,507.48 C80.18,507.10 76.00,506.78 72.90,506.38 C69.80,505.98 67.45,505.62 64.70,505.07 C61.95,504.52 59.17,504.09 56.40,503.06 C53.63,502.04 50.87,500.05 48.10,498.95 C45.33,497.85 42.55,496.86 39.80,496.44 C37.05,496.02 34.08,496.57 31.60,496.44 C29.12,496.31 26.57,496.19 24.90,495.64 C23.23,495.09 22.28,495.77 21.60,493.13 C20.92,490.48 20.93,482.00 20.80,479.78 L20.80,479.78 L20.50,383.82 Z" fill="#fb0a05" fill-opacity="0.45"/>
<path d="M20.50,383.82 L20.80,464.82 L20.80,464.82 C20.93,466.76 20.92,473.82 21.60,476.47 C22.28,479.11 23.23,479.29 24.90,480.68 C26.57,482.07 29.12,483.56 31.60,484.80 C34.08,486.03 37.05,486.87 39.80,488.11 C42.55,489.35 45.33,490.70 48.10,492.22 C50.87,493.75 53.63,495.99 56.40,497.24 C59.17,498.50 61.95,499.05 64.70,499.75 C67.45,500.46 70.15,500.92 72.90,501.46 C75.65,501.99 78.08,502.36 81.20,502.96 C84.32,503.57 87.12,504.29 91.60,505.07 C96.08,505.86 102.58,506.91 108.10,507.68 C113.62,508.45 119.18,509.02 124.70,509.69 C130.22,510.36 136.98,511.21 141.20,511.70 C145.42,512.18 148.53,512.45 150.00,512.60" fill="none" stroke="#ff4545" stroke-width="0.75"/>
<path d="M20.50,383.82 L20.80,415.14 L20.80,415.14 C20.92,415.81 21.22,417.73 21.50,419.15 C21.78,420.58 21.93,421.86 22.50,423.67 C23.07,425.48 23.67,427.60 24.90,429.99 C26.13,432.39 28.47,436.02 29.90,438.02 C31.33,440.03 32.07,440.67 33.50,442.04 C34.93,443.41 36.07,444.33 38.50,446.25 C40.93,448.18 45.12,451.07 48.10,453.58 C51.08,456.09 53.63,458.88 56.40,461.31 C59.17,463.74 61.95,465.91 64.70,468.14 C67.45,470.36 70.15,472.57 72.90,474.66 C75.65,476.75 78.08,478.47 81.20,480.68 C84.32,482.89 88.50,485.90 91.60,487.91 C94.70,489.92 97.05,491.27 99.80,492.73 C102.55,494.18 105.33,495.49 108.10,496.64 C110.87,497.80 113.63,498.65 116.40,499.65 C119.17,500.66 121.95,501.69 124.70,502.66 C127.45,503.63 130.15,504.50 132.90,505.47 C135.65,506.44 138.68,507.58 141.20,508.48 C143.72,509.39 145.73,510.29 148.00,510.89 C150.27,511.50 152.28,511.80 154.80,512.10 C157.32,512.40 161.72,512.60 163.10,512.70 L150.00,512.60 C148.53,512.42 144.05,511.88 141.20,511.50 C138.35,511.11 135.65,510.68 132.90,510.29 C130.15,509.91 127.45,509.56 124.70,509.19 C121.95,508.82 119.17,508.47 116.40,508.08 C113.63,507.70 110.87,507.35 108.10,506.88 C105.33,506.41 102.55,505.88 99.80,505.27 C97.05,504.67 94.70,504.10 91.60,503.27 C88.50,502.43 84.32,501.26 81.20,500.25 C78.08,499.25 75.65,498.30 72.90,497.24 C70.15,496.19 67.45,495.17 64.70,493.93 C61.95,492.69 59.17,491.34 56.40,489.82 C53.63,488.29 50.87,486.74 48.10,484.80 C45.33,482.86 42.55,480.40 39.80,478.17 C37.05,475.95 33.80,473.39 31.60,471.45 C29.40,469.51 28.12,468.45 26.60,466.53 C25.08,464.61 23.47,462.13 22.50,459.90 C21.53,457.68 21.08,454.30 20.80,453.18 L20.80,453.18 L20.50,383.82 Z" fill="#00ffff" fill-opacity="0.4"/>
<path d="M20.50,383.82 L20.70,440.23 L20.70,440.23 C20.85,441.02 20.90,443.34 21.60,444.95 C22.30,446.56 23.23,447.94 24.90,449.87 C26.57,451.79 29.12,454.42 31.60,456.49 C34.08,458.57 37.05,460.37 39.80,462.31 C42.55,464.25 45.33,466.04 48.10,468.14 C50.87,470.23 53.63,472.77 56.40,474.86 C59.17,476.95 61.95,478.76 64.70,480.68 C67.45,482.61 70.15,484.65 72.90,486.40 C75.65,488.16 78.08,489.63 81.20,491.22 C84.32,492.81 88.50,494.65 91.60,495.94 C94.70,497.23 97.05,498.00 99.80,498.95 C102.55,499.90 105.33,500.79 108.10,501.66 C110.87,502.53 113.63,503.38 116.40,504.17 C119.17,504.96 121.95,505.67 124.70,506.38 C127.45,507.08 130.15,507.70 132.90,508.38 C135.65,509.07 138.68,509.91 141.20,510.49 C143.72,511.08 144.87,511.55 148.00,511.90 C151.13,512.25 158.00,512.48 160.00,512.60 L192.20,512.60" fill="none" stroke="#38f2f0" stroke-width="0.75"/>
<path d="M20.50,512.50 L138.00,512.00 L141.60,509.69 L143.60,505.57 L144.90,504.37 L146.60,507.18 L149.00,511.40 L154.80,510.99 L159.80,508.89 L164.80,505.57 L167.30,499.75 L168.90,491.42 L170.20,482.79 L171.40,491.42 L172.20,506.38 L173.40,510.59 L175.50,510.99 L176.00,512.70" fill="none" stroke="#c2c2c2" stroke-width="0.45" stroke-linejoin="round"/>
</g>
<text class="tk" x="20.50" y="519.30" text-anchor="middle">0</text>
<text class="tk" x="45.03" y="519.30" text-anchor="middle">5</text>
<text class="tk" x="69.56" y="519.30" text-anchor="middle">10</text>
<text class="tk" x="94.09" y="519.30" text-anchor="middle">15</text>
<text class="tk" x="118.61" y="519.30" text-anchor="middle">20</text>
<text class="tk" x="143.14" y="519.30" text-anchor="middle">25</text>
<text class="tk" x="167.67" y="519.30" text-anchor="middle">30</text>
<text class="tk" x="192.20" y="519.30" text-anchor="middle">35</text>
<text class="tk" x="19.00" y="514.85" text-anchor="end">0</text>
<text class="tk" x="193.95" y="514.85">0</text>
<text class="tk" x="19.00" y="501.99" text-anchor="end">10</text>
<text class="tk" x="193.95" y="501.99">0.1</text>
<text class="tk" x="19.00" y="489.14" text-anchor="end">20</text>
<text class="tk" x="193.95" y="489.14">0.2</text>
<text class="tk" x="19.00" y="476.28" text-anchor="end">30</text>
<text class="tk" x="193.95" y="476.28">0.3</text>
<text class="tk" x="19.00" y="463.42" text-anchor="end">40</text>
<text class="tk" x="193.95" y="463.42">0.4</text>
<text class="tk" x="19.00" y="450.56" text-anchor="end">50</text>
<text class="tk" x="193.95" y="450.56">0.5</text>
<text class="tk" x="19.00" y="437.71" text-anchor="end">60</text>
<text class="tk" x="193.95" y="437.71">0.6</text>
<text class="tk" x="19.00" y="424.85" text-anchor="end">70</text>
<text class="tk" x="193.95" y="424.85">0.7</text>
<text class="tk" x="19.00" y="411.99" text-anchor="end">80</text>
<text class="tk" x="193.95" y="411.99">0.8</text>
<text class="tk" x="19.00" y="399.14" text-anchor="end">90</text>
<text class="tk" x="193.95" y="399.14">0.9</text>
<text class="tk" x="19.00" y="386.28" text-anchor="end">100</text>
<text class="tk" x="193.95" y="386.28">1</text>
<text class="al" x="106.35" y="526.60" text-anchor="middle">Dose (GyE)</text>
<text class="al" transform="translate(8.40,445.10) rotate(-90)" text-anchor="middle">Volume (%)</text>
<text class="al" transform="translate(207.20,445.10) rotate(-90)" text-anchor="middle">P-Value</text>
<text class="tt" x="106.35" y="375.00" text-anchor="middle">Body - CTV</text>
<rect x="86.20" y="379.90" width="40.3" height="29.1" fill="#fff" stroke="#8a8a8a" stroke-width="0.4"/>
<path d="M87.40,383.30 h9.9" stroke="#ff4545" stroke-width="0.55"/>
<text class="lg" x="98.70" y="384.75">IMPT</text>
<rect x="87.40" y="387.00" width="9.9" height="3.8" fill="#fb0a05" fill-opacity="0.45"/>
<text class="lg" x="98.70" y="390.35">IMPT+St-Dev</text>
<path d="M87.40,394.50 h9.9" stroke="#38f2f0" stroke-width="0.55"/>
<text class="lg" x="98.70" y="395.95">IMRT</text>
<rect x="87.40" y="398.20" width="9.9" height="3.8" fill="#00ffff" fill-opacity="0.4"/>
<text class="lg" x="98.70" y="401.55">IMRT+St-Dev</text>
<path d="M87.40,405.70 h9.9" stroke="#c2c2c2" stroke-width="0.45"/>
<text class="lg" x="98.70" y="407.15">P-Value</text>
<text class="cp" x="102.15" y="543.20" text-anchor="middle">(K)</text>
</g>
</svg>
</body>
</html>
